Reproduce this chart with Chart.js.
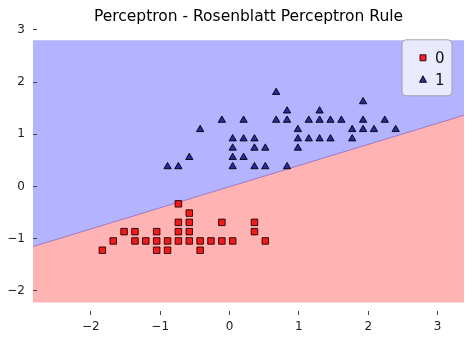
<!DOCTYPE html>
<html>
<head>
<meta charset="utf-8">
<title>Perceptron - Rosenblatt Perceptron Rule</title>
<script src="https://cdn.jsdelivr.net/npm/chart.js@4/dist/chart.umd.min.js"></script>
<style>
  html, body { margin: 0; padding: 0; background: #fff; }
  #wrap { width: 474px; height: 343px; }
</style>
</head>
<body>
<div id="wrap"><canvas id="chart"></canvas></div>
<script>
// standardized sepal length (x) vs petal width (y)
const CLASS0_X = [-1.834, -1.051, -0.894, -0.424,
  -1.677, -1.364, -1.208, -1.051, -0.894, -0.738, -0.581, -0.424, -0.268, -0.111, 0.045, 0.515,
  -1.521, -1.364, -1.051, -0.738, -0.581, 0.359,
  -0.738, -0.581, -0.111, 0.359,
  -0.581,
  -0.738];
const CLASS0_Y = [-1.220, -1.220, -1.220, -1.220,
  -1.042, -1.042, -1.042, -1.042, -1.042, -1.042, -1.042, -1.042, -1.042, -1.042, -1.042, -1.042,
  -0.864, -0.864, -0.864, -0.864, -0.864, -0.864,
  -0.686, -0.686, -0.686, -0.686,
  -0.509,
  -0.331];

const CLASS1_X = [-0.894, -0.738, 0.045, 0.359, 0.515, 0.829,
  -0.581, 0.045, 0.202,
  0.045, 0.359, 0.515, 0.985,
  0.045, 0.202, 0.359, 0.985, 1.142, 1.298, 1.455, 1.768,
  -0.424, 0.985, 1.768, 1.925, 2.082, 2.395,
  -0.111, 0.202, 0.672, 0.829, 1.142, 1.298, 1.455, 1.612, 1.925, 2.238,
  0.829, 1.298,
  1.925,
  0.672];
const CLASS1_Y = [0.381, 0.381, 0.381, 0.381, 0.381, 0.381,
  0.558, 0.558, 0.558,
  0.736, 0.736, 0.736, 0.736,
  0.914, 0.914, 0.914, 0.914, 0.914, 0.914, 0.914, 0.914,
  1.092, 1.092, 1.092, 1.092, 1.092, 1.092,
  1.270, 1.270, 1.270, 1.270, 1.270, 1.270, 1.270, 1.270, 1.270, 1.270,
  1.448, 1.448,
  1.625,
  1.803];

// decision boundary and extent of the shaded regions
const BOUNDARY_X = [-2.834, 3.38];
const BOUNDARY_Y = [-1.15, 1.365];
const REGION_BOTTOM = -2.22;
const REGION_TOP = 2.80;

const X_TICKS = [-2, -1, 0, 1, 2, 3];
const Y_TICKS = [-2, -1, 0, 1, 2, 3];

const FONT = 'DejaVu Sans';
const toPoints = (xs, ys) => xs.map((x, i) => ({ x, y: ys[i] }));
const minusLabel = v => (v < 0 ? '\u2212' + Math.abs(v) : String(v));

// small boxed legend drawn inside the plot, top right
const legendBox = {
  id: 'legendBox',
  afterDatasetsDraw(chart) {
    const { ctx, chartArea } = chart;
    const items = chart.data.datasets.filter(d => d.label !== undefined);
    const w = 50, h = 56;
    const x = chartArea.right - 12 - w, y = chartArea.top + 11;
    ctx.save();
    ctx.beginPath();
    ctx.roundRect(x, y, w, h, 4);
    ctx.fillStyle = 'rgba(255,255,255,0.72)';
    ctx.fill();
    ctx.strokeStyle = '#a0a0a8';
    ctx.lineWidth = 1;
    ctx.stroke();

    items.forEach((d, i) => {
      const my = y + 18 + i * 22;
      const mx = x + 21;
      ctx.beginPath();
      if (d.pointStyle === 'rect') {
        ctx.rect(mx - 3, my - 3, 6, 6);
      } else {
        ctx.moveTo(mx, my - 4);
        ctx.lineTo(mx + 3.5, my + 2.5);
        ctx.lineTo(mx - 3.5, my + 2.5);
        ctx.closePath();
      }
      ctx.fillStyle = d.pointBackgroundColor;
      ctx.fill();
      ctx.strokeStyle = d.pointBorderColor;
      ctx.stroke();

      ctx.fillStyle = '#111';
      ctx.font = '15px "' + FONT + '"';
      ctx.textAlign = 'left';
      ctx.textBaseline = 'middle';
      ctx.fillText(d.label, x + 33, my + 1);
    });
    ctx.restore();
  }
};

new Chart(document.getElementById('chart'), {
  type: 'line',
  data: {
    datasets: [
      {
        data: toPoints(BOUNDARY_X, BOUNDARY_X.map(() => REGION_BOTTOM)),
        borderWidth: 0, pointRadius: 0, fill: false, order: 1,
      },
      {
        data: toPoints(BOUNDARY_X, BOUNDARY_Y),
        borderColor: 'rgba(150,110,200,0.9)', borderWidth: 1,
        backgroundColor: '#ffb3b3', pointRadius: 0, fill: 0, order: 1,
      },
      {
        data: toPoints(BOUNDARY_X, BOUNDARY_X.map(() => REGION_TOP)),
        borderWidth: 0, backgroundColor: '#b3b3ff', pointRadius: 0, fill: 1, order: 1,
      },
      {
        label: '0',
        data: toPoints(CLASS0_X, CLASS0_Y),
        showLine: false, pointStyle: 'rect', pointRadius: 4.6,
        pointBackgroundColor: 'rgba(240,0,0,0.85)', pointBorderColor: 'rgba(40,0,0,0.9)',
        pointBorderWidth: 1, order: 0,
      },
      {
        label: '1',
        data: toPoints(CLASS1_X, CLASS1_Y),
        showLine: false, pointStyle: 'triangle', pointRadius: 4.2,
        pointBackgroundColor: 'rgba(25,25,150,0.9)', pointBorderColor: 'rgba(0,0,0,0.9)',
        pointBorderWidth: 1, order: 0,
      },
    ],
  },
  options: {
    responsive: true,
    maintainAspectRatio: false,
    animation: false,
    layout: { padding: { left: 0, right: 10, top: 0, bottom: 0 } },
    plugins: {
      legend: { display: false },
      tooltip: { enabled: false },
      title: {
        display: true,
        fullSize: false,
        text: 'Perceptron - Rosenblatt Perceptron Rule',
        color: '#000',
        font: { family: FONT, size: 15.5, weight: 'normal' },
        padding: { top: 8, bottom: 2.2 },
      },
    },
    scales: {
      x: {
        type: 'linear',
        min: -2.834,
        max: 3.38,
        afterBuildTicks: s => { s.ticks = X_TICKS.map(v => ({ value: v })); },
        afterFit: s => { s.height = 28; },
        grid: { drawOnChartArea: false, tickLength: -4, tickColor: '#444', z: 1 },
        border: { display: false },
        ticks: { padding: 9, color: '#222', font: { family: FONT, size: 12 }, callback: minusLabel },
      },
      y: {
        type: 'linear',
        min: -2.46,
        max: 3.02,
        afterBuildTicks: s => { s.ticks = Y_TICKS.map(v => ({ value: v })); },
        afterFit: s => { s.width = 33; },
        grid: { drawOnChartArea: false, tickLength: -4, tickColor: '#444', z: 1 },
        border: { display: false },
        ticks: { padding: 12, color: '#222', font: { family: FONT, size: 12 }, callback: minusLabel },
      },
    },
  },
  plugins: [legendBox],
});
</script>
</body>
</html>
